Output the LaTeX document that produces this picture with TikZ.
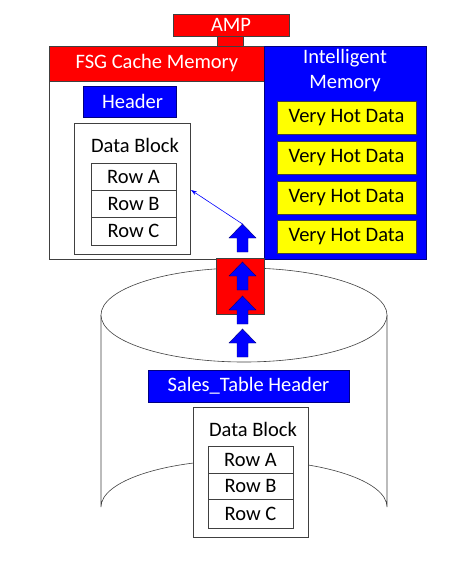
\documentclass[tikz,border=0pt]{standalone}
\usepackage{fontspec}
\setmainfont{Carlito}
\usetikzlibrary{arrows.meta}
\definecolor{pblue}{RGB}{0,0,255}
\definecolor{pred}{RGB}{255,0,0}
\definecolor{pyellow}{RGB}{255,255,0}
\begin{document}
\begin{tikzpicture}[x=1pt,y=-1pt,
  every node/.style={font=\fontsize{20.5}{24}\selectfont, inner sep=0pt, outer sep=0pt},
  box/.style={draw=black!75, line width=0.6pt, rectangle},
  redbox/.style={box, fill=pred, text=white},
  bluebox/.style={box, draw=blue!50!black, fill=pblue, text=white},
  yellowbox/.style={box, fill=pyellow, text=black, minimum width=139pt, minimum height=33pt},
  whitebox/.style={box, fill=white},
  rowbox/.style={box, fill=white, minimum width=85pt},
  uparrow/.pic={\draw[fill=pblue, draw=blue!50!black, line width=0.4pt]
     (0,0) -- (13.5,14) -- (5.5,14) -- (5.5,28) -- (-5.5,28) -- (-5.5,14) -- (-13.5,14) -- cycle;
     \coordinate (-tip) at (0,0);}
]
\useasboundingbox (0,0) rectangle (474,566);

% cylinder
\draw[black!75, line width=0.6pt, fill=white]
  (101,315) -- (101,507) arc[start angle=180, end angle=360, x radius=143, y radius=47] -- (387,315);
\draw[black!75, line width=0.6pt, fill=white] (244,315) ellipse[x radius=143, y radius=47];

% AMP
\node[redbox, minimum width=116pt, minimum height=22pt] (amp) at (231,25) {AMP};
\node[redbox, minimum width=26pt, minimum height=10pt] (ampconn) at (230,41) {};

% FSG cache memory
\node[whitebox, minimum width=216pt, minimum height=213pt] (fsg) at (157,152.5) {};
\node[redbox, minimum width=216pt, minimum height=35pt] (fsgtitle) at (157,63.5) {FSG Cache Memory};
\node[bluebox, minimum width=93pt, minimum height=31pt] (hdr) at (129.5,101.5) {\hspace{6pt}Header};
\node[whitebox, minimum width=116pt, minimum height=131pt] (db1) at (132,188.5) {};
\node (db1t) at (135,145) {Data Block};
\node[rowbox, minimum height=27pt] (r1a) at (133.5,176.5) {Row A};
\node[rowbox, minimum height=27pt] (r1b) at (133.5,203.5) {Row B};
\node[rowbox, minimum height=28pt] (r1c) at (133.5,231) {Row C};

% Intelligent memory
\node[bluebox, minimum width=162pt, minimum height=213pt] (im) at (345,152.5) {};
\node[text=white, align=center] (imt) at (345,70.5) {Intelligent\\[1pt]Memory};
\node[yellowbox] (v1) at (346.5,118) {Very Hot Data};
\node[yellowbox] (v2) at (346.5,158) {Very Hot Data};
\node[yellowbox] (v3) at (346.5,198) {Very Hot Data};
\node[yellowbox] (v4) at (346.5,236.5) {Very Hot Data};

% junction red box
\node[redbox, minimum width=48pt, minimum height=56pt] (junc) at (240,286) {};

% arrows
\pic (a1) at (242.5,224) {uparrow};
\pic (a2) at (242.5,262) {uparrow};
\pic (a3) at (242.5,296) {uparrow};
\pic (a4) at (242.5,329) {uparrow};
\coordinate (rowtarget) at (191,190);
\draw[pblue, line width=0.6pt, -{Stealth[length=6pt,width=4pt]}] (a1-tip) -- (rowtarget);

% disk contents
\node[bluebox, minimum width=201pt, minimum height=32pt] (shdr) at (248.5,386) {Sales\_Table Header};
\node[whitebox, minimum width=115pt, minimum height=130pt] (db2) at (250.5,472) {};
\node (db2t) at (253,429) {Data Block};
\node[rowbox, minimum height=27pt] (r2a) at (250.5,459.5) {Row A};
\node[rowbox, minimum height=26pt] (r2b) at (250.5,486) {Row B};
\node[rowbox, minimum height=29pt] (r2c) at (250.5,513.5) {Row C};
\end{tikzpicture}
\end{document}
